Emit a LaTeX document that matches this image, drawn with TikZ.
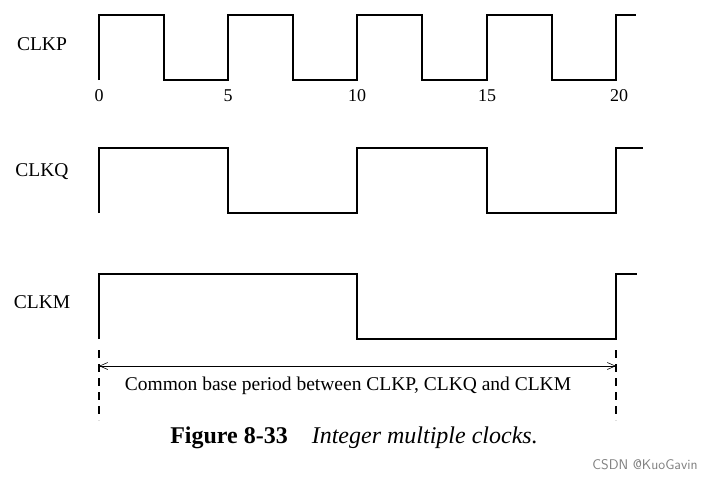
\documentclass[tikz,border=0pt]{standalone}
\usepackage{fontspec}
\setmainfont{Liberation Serif}
\usetikzlibrary{arrows.meta}
\begin{document}
\begin{tikzpicture}[x=1pt,y=-1pt,
  wave/.style={line width=1.6pt,line join=miter},
  lab/.style={font=\fontsize{19.5}{22}\selectfont},
  num/.style={font=\fontsize{18}{20}\selectfont}]
\useasboundingbox[fill=white] (0,0) rectangle (716,479);
% CLKP
\draw[wave] (99,80) -- (99,15) -- (164,15) -- (164,80) -- (228,80) -- (228,15) -- (293,15) -- (293,80) -- (357,80) -- (357,15) -- (422,15) -- (422,80) -- (487,80) -- (487,15) -- (552,15) -- (552,80) -- (616,80) -- (616,15) -- (636,15);
% CLKQ
\draw[wave] (99,213) -- (99,148) -- (228,148) -- (228,213) -- (357,213) -- (357,148) -- (487,148) -- (487,213) -- (616,213) -- (616,148) -- (643,148);
% CLKM
\draw[wave] (99,339) -- (99,274) -- (357,274) -- (357,339) -- (616,339) -- (616,274) -- (637,274);
\node[lab] (p) at (42,44) {CLKP};
\node[lab] (q) at (42,172) {CLKQ};
\node[lab] (m) at (42,302) {CLKM};
\node[num] (t0) at (99,96) {0};
\node[num] (t5) at (228,96) {5};
\node[num] (t10) at (357,96) {10};
\node[num] (t15) at (487,96) {15};
\node[num] (t20) at (619,96) {20};
\coordinate (a) at (99,366);
\coordinate (b) at (616,366);
\draw[line width=1.2pt,dash pattern=on 8pt off 6pt] (99,350) -- (99,420);
\draw[line width=1.2pt,dash pattern=on 8pt off 6pt] (616,350) -- (616,420);
\draw[line width=0.6pt,{Straight Barb[length=8pt,width=7pt]}-{Straight Barb[length=8pt,width=7pt]}] (a) -- (b);
\node[lab] (c) at (348,386) {Common base period between CLKP, CLKQ and CLKM};
\node[font=\fontsize{24}{27}\selectfont] (f) at (354,438) {\textbf{Figure 8-33}\quad\textit{Integer multiple clocks.}};
\node[font=\sffamily\fontsize{14}{16}\selectfont,text=gray] (w) at (645,465) {CSDN @KuoGavin};
\end{tikzpicture}
\end{document}
